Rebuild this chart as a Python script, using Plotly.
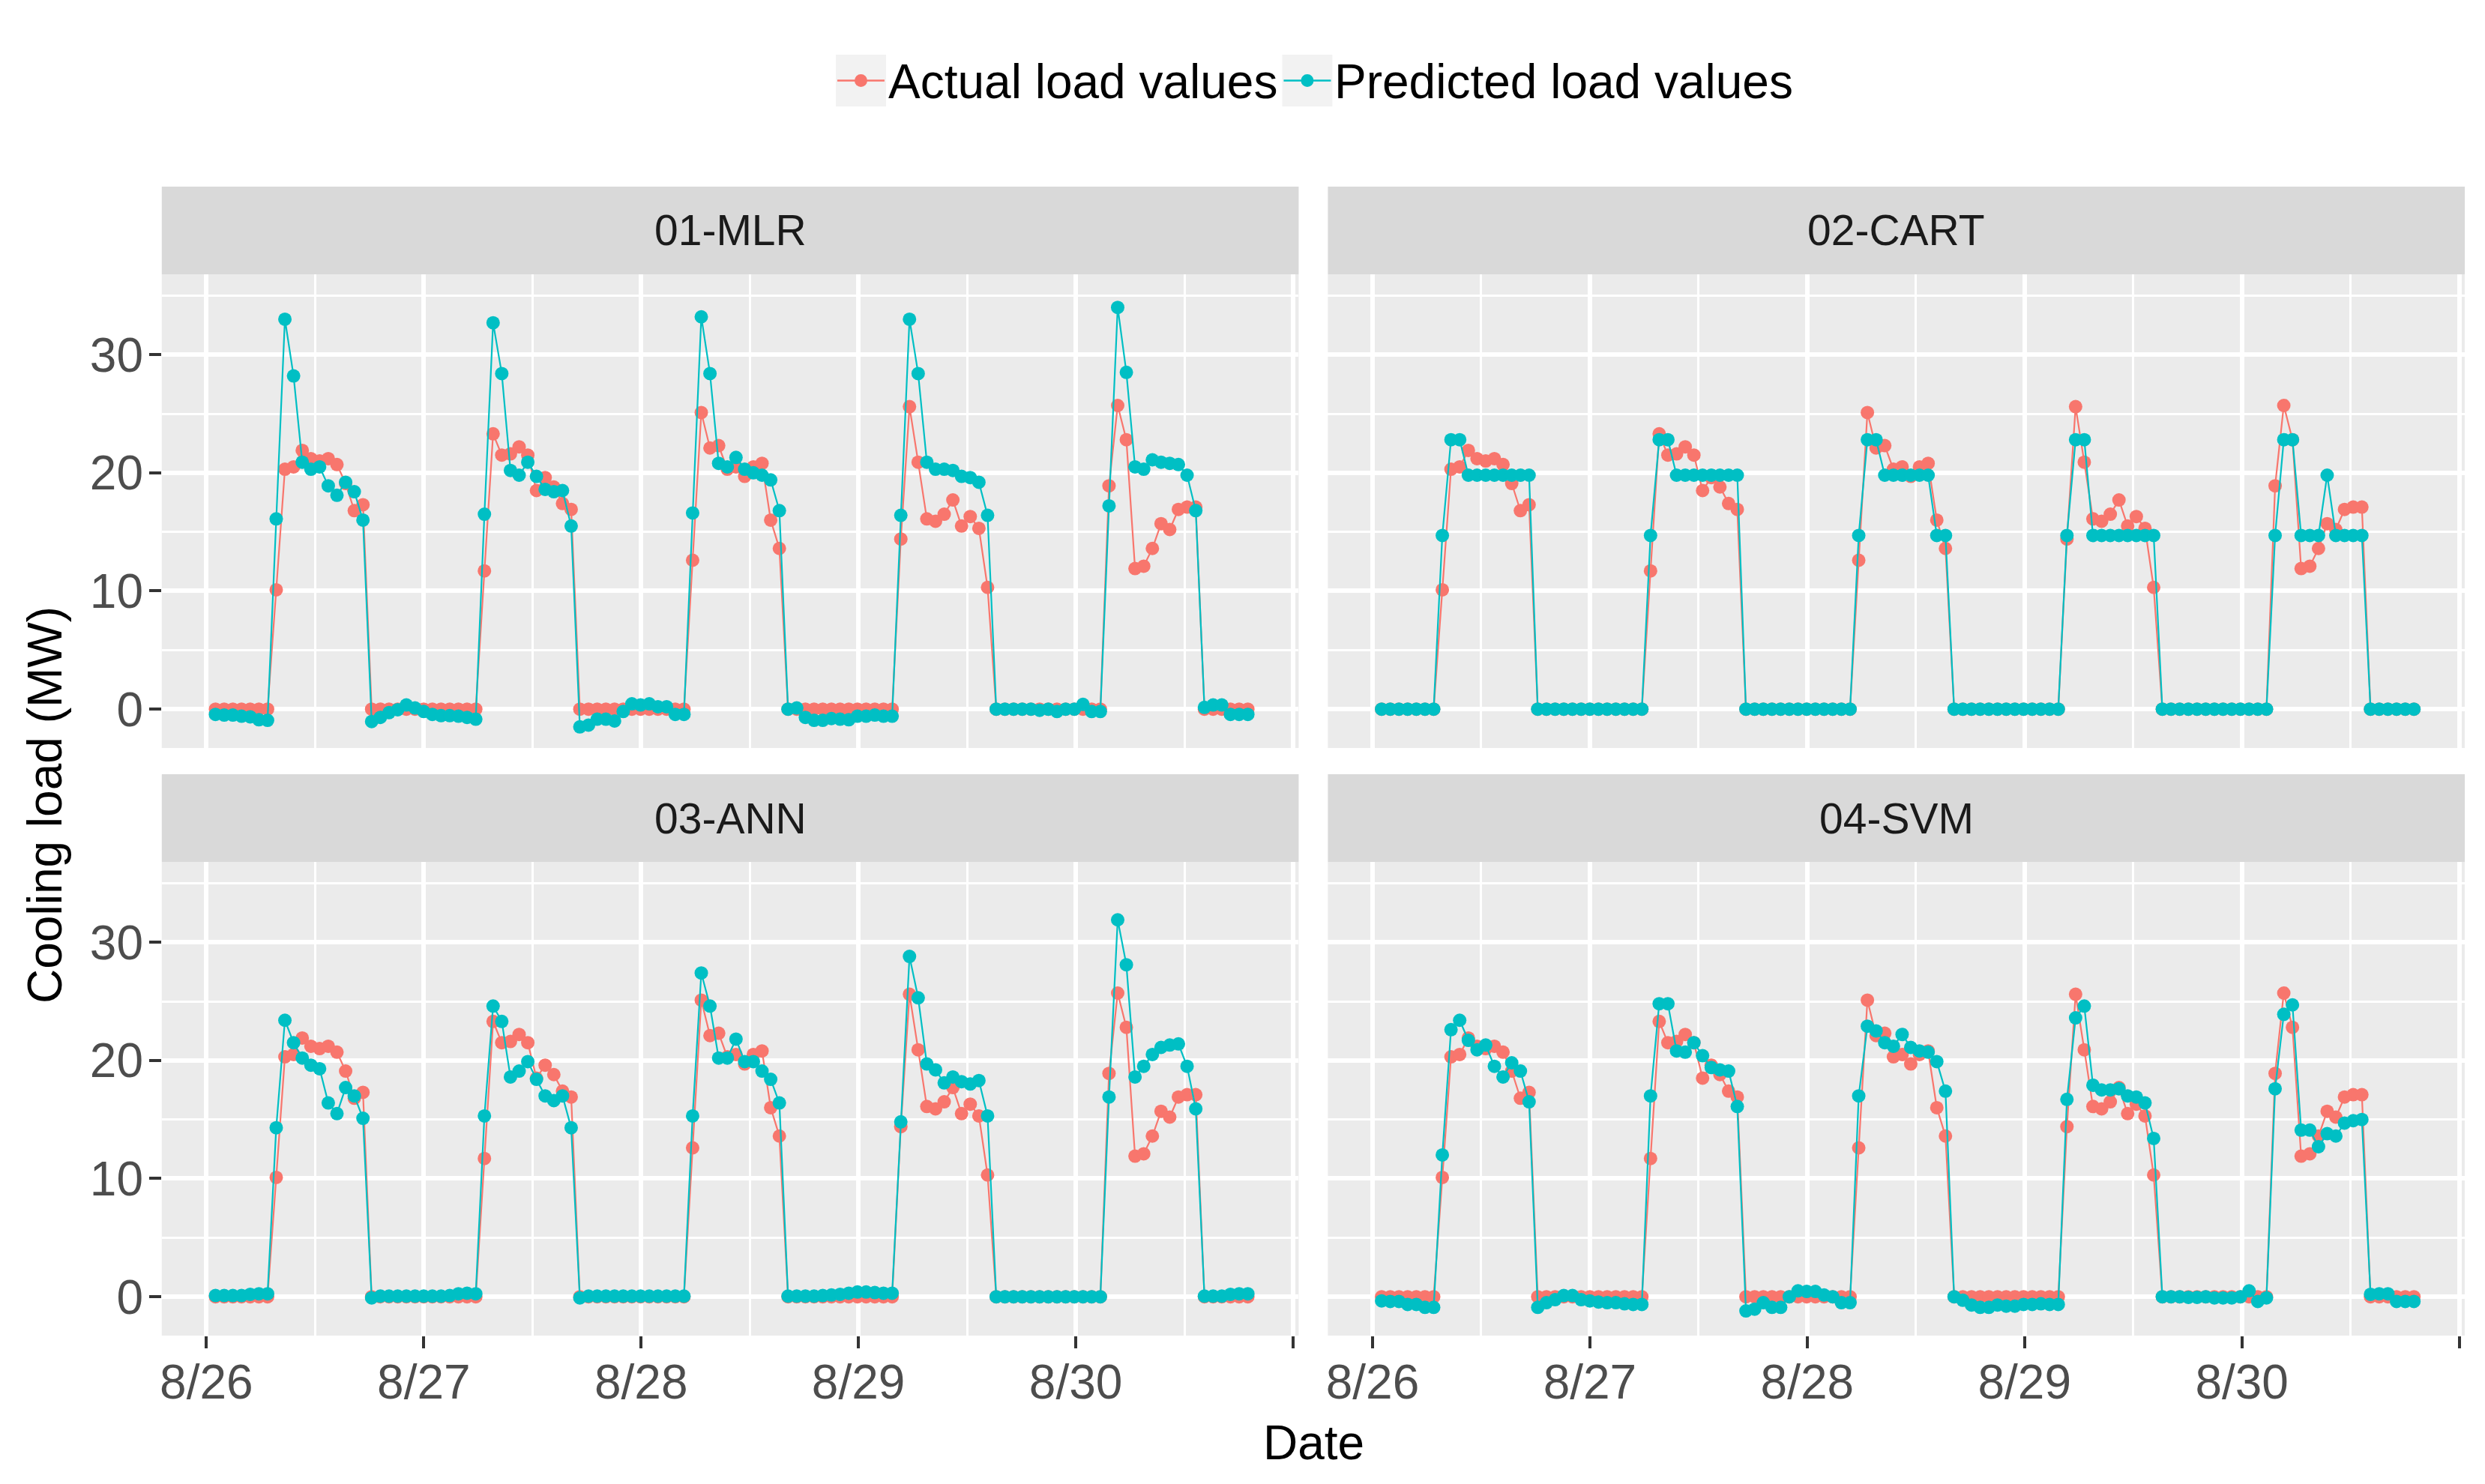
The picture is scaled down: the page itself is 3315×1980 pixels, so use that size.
import pandas as pd
import plotly.graph_objects as go

# hourly samples (120 points) shown on a date axis
times = pd.date_range("2016-08-26 01:00", "2016-08-30 19:00", periods=120)

z7 = [0] * 7
z6 = [0] * 6

actual_load = (
    z7 + [10.1, 20.3, 20.5, 21.9, 21.2, 21.0, 21.2, 20.7, 19.1, 16.8, 17.3] + z6 +
    z7 + [11.7, 23.3, 21.5, 21.6, 22.2, 21.5, 18.5, 19.6, 18.8, 17.4, 16.9] + z6 +
    z7 + [12.6, 25.1, 22.1, 22.3, 20.3, 20.5, 19.7, 20.5, 20.8, 16.0, 13.6] + z6 +
    z7 + [14.4, 25.6, 20.9, 16.1, 15.9, 16.5, 17.7, 15.5, 16.3, 15.3, 10.3] + z6 +
    z7 + [18.9, 25.7, 22.8, 11.9, 12.1, 13.6, 15.7, 15.2, 16.9, 17.1, 17.1] + z6
)

mlr_pred = [
    -0.45, -0.5, -0.5, -0.6, -0.65, -0.9, -0.95,
    16.1, 33.0, 28.2, 20.9, 20.3, 20.5, 18.9, 18.1, 19.2, 18.4, 16.0,
    -1.05, -0.7, -0.3, -0.05, 0.35, 0.1,
    -0.2, -0.45, -0.55, -0.55, -0.6, -0.7, -0.85,
    16.5, 32.7, 28.4, 20.2, 19.8, 20.9, 19.7, 18.6, 18.4, 18.5, 15.5,
    -1.5, -1.35, -0.85, -0.85, -1.0, -0.2,
    0.45, 0.35, 0.45, 0.2, 0.2, -0.45, -0.45,
    16.6, 33.2, 28.4, 20.8, 20.5, 21.3, 20.3, 20.0, 19.8, 19.4, 16.8,
    0.0, 0.1, -0.7, -0.95, -0.95, -0.8,
    -0.85, -0.9, -0.6, -0.6, -0.5, -0.6, -0.6,
    16.4, 33.0, 28.4, 20.9, 20.3, 20.3, 20.2, 19.7, 19.6, 19.2, 16.4,
    0.0, 0.0, 0.0, 0.0, 0.0, -0.1,
    0.0, -0.2, 0.0, 0.0, 0.4, -0.2, -0.2,
    17.2, 34.0, 28.5, 20.5, 20.3, 21.1, 20.9, 20.8, 20.7, 19.8, 16.8,
    0.15, 0.35, 0.35, -0.45, -0.45, -0.45,
]

cart_pred = (
    z7 + [14.7, 22.8, 22.8, 19.8, 19.8, 19.8, 19.8, 19.8, 19.8, 19.8, 19.8] + z6 +
    z7 + [14.7, 22.8, 22.8, 19.8, 19.8, 19.8, 19.8, 19.8, 19.8, 19.8, 19.8] + z6 +
    z7 + [14.7, 22.8, 22.8, 19.8, 19.8, 19.8, 19.8, 19.8, 19.8, 14.7, 14.7] + z6 +
    z7 + [14.7, 22.8, 22.8, 14.7, 14.7, 14.7, 14.7, 14.7, 14.7, 14.7, 14.7] + z6 +
    z7 + [14.7, 22.8, 22.8, 14.7, 14.7, 14.7, 19.8, 14.7, 14.7, 14.7, 14.7] + z6
)

ann_pred = [
    0.1, 0.1, 0.1, 0.1, 0.2, 0.25, 0.25,
    14.3, 23.4, 21.5, 20.2, 19.6, 19.3, 16.4, 15.5, 17.7, 17.0, 15.1,
    -0.1, 0.05, 0.05, 0.05, 0.05, 0.05,
    0.05, 0.05, 0.05, 0.1, 0.25, 0.3, 0.25,
    15.3, 24.6, 23.3, 18.6, 19.1, 19.9, 18.4, 17.0, 16.6, 17.0, 14.3,
    -0.1, 0.05, 0.05, 0.05, 0.05, 0.05,
    0.05, 0.05, 0.05, 0.05, 0.05, 0.05, 0.05,
    15.3, 27.4, 24.6, 20.2, 20.2, 21.8, 19.9, 19.9, 19.1, 18.4, 16.4,
    0.05, 0.05, 0.05, 0.05, 0.1, 0.15,
    0.2, 0.3, 0.4, 0.4, 0.35, 0.3, 0.3,
    14.8, 28.8, 25.3, 19.7, 19.2, 18.1, 18.6, 18.2, 18.0, 18.3, 15.3,
    0.0, 0.0, 0.0, 0.0, 0.0, 0.0,
    0.0, 0.0, 0.0, 0.0, 0.0, 0.0, 0.0,
    16.9, 31.9, 28.1, 18.6, 19.5, 20.5, 21.1, 21.3, 21.4, 19.5, 15.9,
    0.05, 0.05, 0.05, 0.2, 0.25, 0.25,
]

svm_pred = [
    -0.35, -0.4, -0.4, -0.65, -0.65, -0.9, -0.9,
    12.0, 22.6, 23.4, 21.7, 20.9, 21.3, 19.5, 18.6, 19.8, 19.1, 16.5,
    -0.9, -0.5, -0.25, 0.1, 0.1, -0.25,
    -0.35, -0.45, -0.5, -0.5, -0.6, -0.65, -0.65,
    17.0, 24.8, 24.8, 20.8, 20.7, 21.5, 20.4, 19.4, 19.2, 19.1, 16.1,
    -1.2, -1.05, -0.5, -0.9, -0.9, 0.0,
    0.5, 0.45, 0.45, 0.15, 0.0, -0.5, -0.5,
    17.0, 22.9, 22.5, 21.5, 21.2, 22.2, 21.1, 20.8, 20.7, 19.9, 17.4,
    0.0, -0.3, -0.7, -0.9, -0.9, -0.7,
    -0.8, -0.8, -0.65, -0.65, -0.6, -0.65, -0.65,
    16.7, 23.6, 24.6, 17.9, 17.5, 17.5, 17.6, 17.0, 16.9, 16.4, 13.4,
    0.0, 0.0, 0.0, -0.05, -0.05, 0.0,
    -0.1, -0.1, -0.1, 0.0, 0.5, -0.4, -0.1,
    17.6, 23.9, 24.7, 14.1, 14.1, 12.7, 13.8, 13.6, 14.7, 14.9, 15.0,
    0.2, 0.25, 0.25, -0.4, -0.4, -0.4,
]

models = ["01-MLR", "02-CART", "03-ANN", "04-SVM"]
predictions = [mlr_pred, cart_pred, ann_pred, svm_pred]
series_names = ["Actual load values", "Predicted load values"]

major_days = pd.date_range("2016-08-26", "2016-08-31", freq="D")
day_labels = [f"{d.month}/{d.day}" for d in major_days[:-1]] + [""]
noon_lines = pd.date_range("2016-08-26 12:00", "2016-08-30 12:00", freq="D")
y_ticks = [0, 10, 20, 30]

RED = "#F8766D"
CYAN = "#00BFC4"
FONT = "Liberation Sans"
W, H = 3315, 1980

# panel boxes in pixels (left, right, top, bottom)
col_x = [(213, 1731), (1770, 3288)]
row_y = [(366, 998), (1150, 1782)]
strip_h = 117

fig = go.Figure()

for k, (name, pred) in enumerate(zip(models, predictions)):
    r, c = divmod(k, 2)
    ax = "" if k == 0 else str(k + 1)
    for vals, col in [(actual_load, RED), (pred, CYAN)]:
        fig.add_trace(go.Scatter(
            x=times, y=vals, mode="lines+markers",
            line=dict(color=col, width=2.2), marker=dict(color=col, size=18),
            showlegend=False, xaxis="x" + ax, yaxis="y" + ax,
        ))

    x0, x1 = col_x[c]
    y0, y1 = row_y[r]
    bottom_row = r == 1
    left_col = c == 0

    fig.update_layout({
        "xaxis" + ax: dict(
            domain=[x0 / W, x1 / W], anchor="y" + ax,
            range=["2016-08-25 19:04", "2016-08-31 00:37"],
            tickmode="array", tickvals=major_days, ticktext=day_labels,
            showticklabels=bottom_row, ticks="outside" if bottom_row else "",
            ticklen=16, tickwidth=4, tickcolor="#333333",
            ticklabelstandoff=-10,
            tickfont=dict(family=FONT, size=64, color="#4D4D4D"),
            showgrid=True, gridcolor="white", gridwidth=5.5, zeroline=False,
            minor=dict(tickmode="array", tickvals=noon_lines, showgrid=True,
                       gridcolor="white", gridwidth=3, ticks=""),
            showline=False,
        ),
        "yaxis" + ax: dict(
            domain=[1 - y1 / H, 1 - y0 / H], anchor="x" + ax,
            range=[-3.29, 36.8],
            tickmode="array", tickvals=y_ticks,
            showticklabels=left_col, ticks="outside" if left_col else "",
            ticklen=16, tickwidth=4, tickcolor="#333333",
            ticklabelstandoff=-5,
            tickfont=dict(family=FONT, size=64, color="#4D4D4D"),
            showgrid=True, gridcolor="white", gridwidth=5.5, zeroline=False,
            minor=dict(tickmode="array", tickvals=[5, 15, 25, 35], showgrid=True,
                       gridcolor="white", gridwidth=3, ticks=""),
            showline=False,
        ),
    })

    # facet strip
    fig.add_shape(type="rect", xref="paper", yref="paper",
                  x0=x0 / W, x1=x1 / W, y0=1 - y0 / H, y1=1 - (y0 - strip_h) / H,
                  fillcolor="#D9D9D9", line=dict(width=0), layer="below")
    fig.add_annotation(text=name, xref="paper", yref="paper",
                       x=(x0 + x1) / 2 / W, y=1 - (y0 - strip_h / 2) / H,
                       showarrow=False, xanchor="center", yanchor="middle",
                       font=dict(family=FONT, size=57, color="#1A1A1A"))

# legend drawn ggplot-style: grey key box with line and dot, label to the right
key_left = [1113, 1709]
key_w, key_top, key_bot = 67, 73, 142
key_mid = (key_top + key_bot) / 2
for left, label, col in zip(key_left, series_names, [RED, CYAN]):
    fig.add_shape(type="rect", xref="paper", yref="paper",
                  x0=left / W, x1=(left + key_w) / W,
                  y0=1 - key_bot / H, y1=1 - key_top / H,
                  fillcolor="#F2F2F2", line=dict(width=0))
    fig.add_shape(type="line", xref="paper", yref="paper",
                  x0=(left + 2) / W, x1=(left + key_w - 2) / W,
                  y0=1 - key_mid / H, y1=1 - key_mid / H,
                  line=dict(color=col, width=2.5))
    cx = left + key_w / 2
    fig.add_shape(type="circle", xref="paper", yref="paper",
                  x0=(cx - 8.5) / W, x1=(cx + 8.5) / W,
                  y0=1 - (key_mid + 8.5) / H, y1=1 - (key_mid - 8.5) / H,
                  fillcolor=col, line=dict(width=0))
    fig.add_annotation(text=label, xref="paper", yref="paper",
                       x=(left + key_w + 1) / W, y=1 - (key_mid + 2) / H,
                       showarrow=False, xanchor="left", yanchor="middle",
                       font=dict(family=FONT, size=64, color="black"))

# axis titles
fig.add_annotation(text="Date", xref="paper", yref="paper",
                   x=1751 / W, y=1 - 1925 / H, showarrow=False,
                   xanchor="center", yanchor="middle",
                   font=dict(family=FONT, size=64, color="black"))
fig.add_annotation(text="Cooling load (MW)", xref="paper", yref="paper",
                   x=57 / W, y=1 - 1074 / H, showarrow=False, textangle=-90,
                   xanchor="center", yanchor="middle",
                   font=dict(family=FONT, size=64, color="black"))

fig.update_layout(
    width=W, height=H,
    margin=dict(l=0, r=0, t=0, b=0),
    paper_bgcolor="white", plot_bgcolor="#EBEBEB",
    font=dict(family=FONT, color="black"),
    showlegend=False,
)

fig.write_html(
    "out.html",
    config={"displayModeBar": False},
    post_script="document.body.style.margin='0';document.body.style.overflow='hidden';",
)
